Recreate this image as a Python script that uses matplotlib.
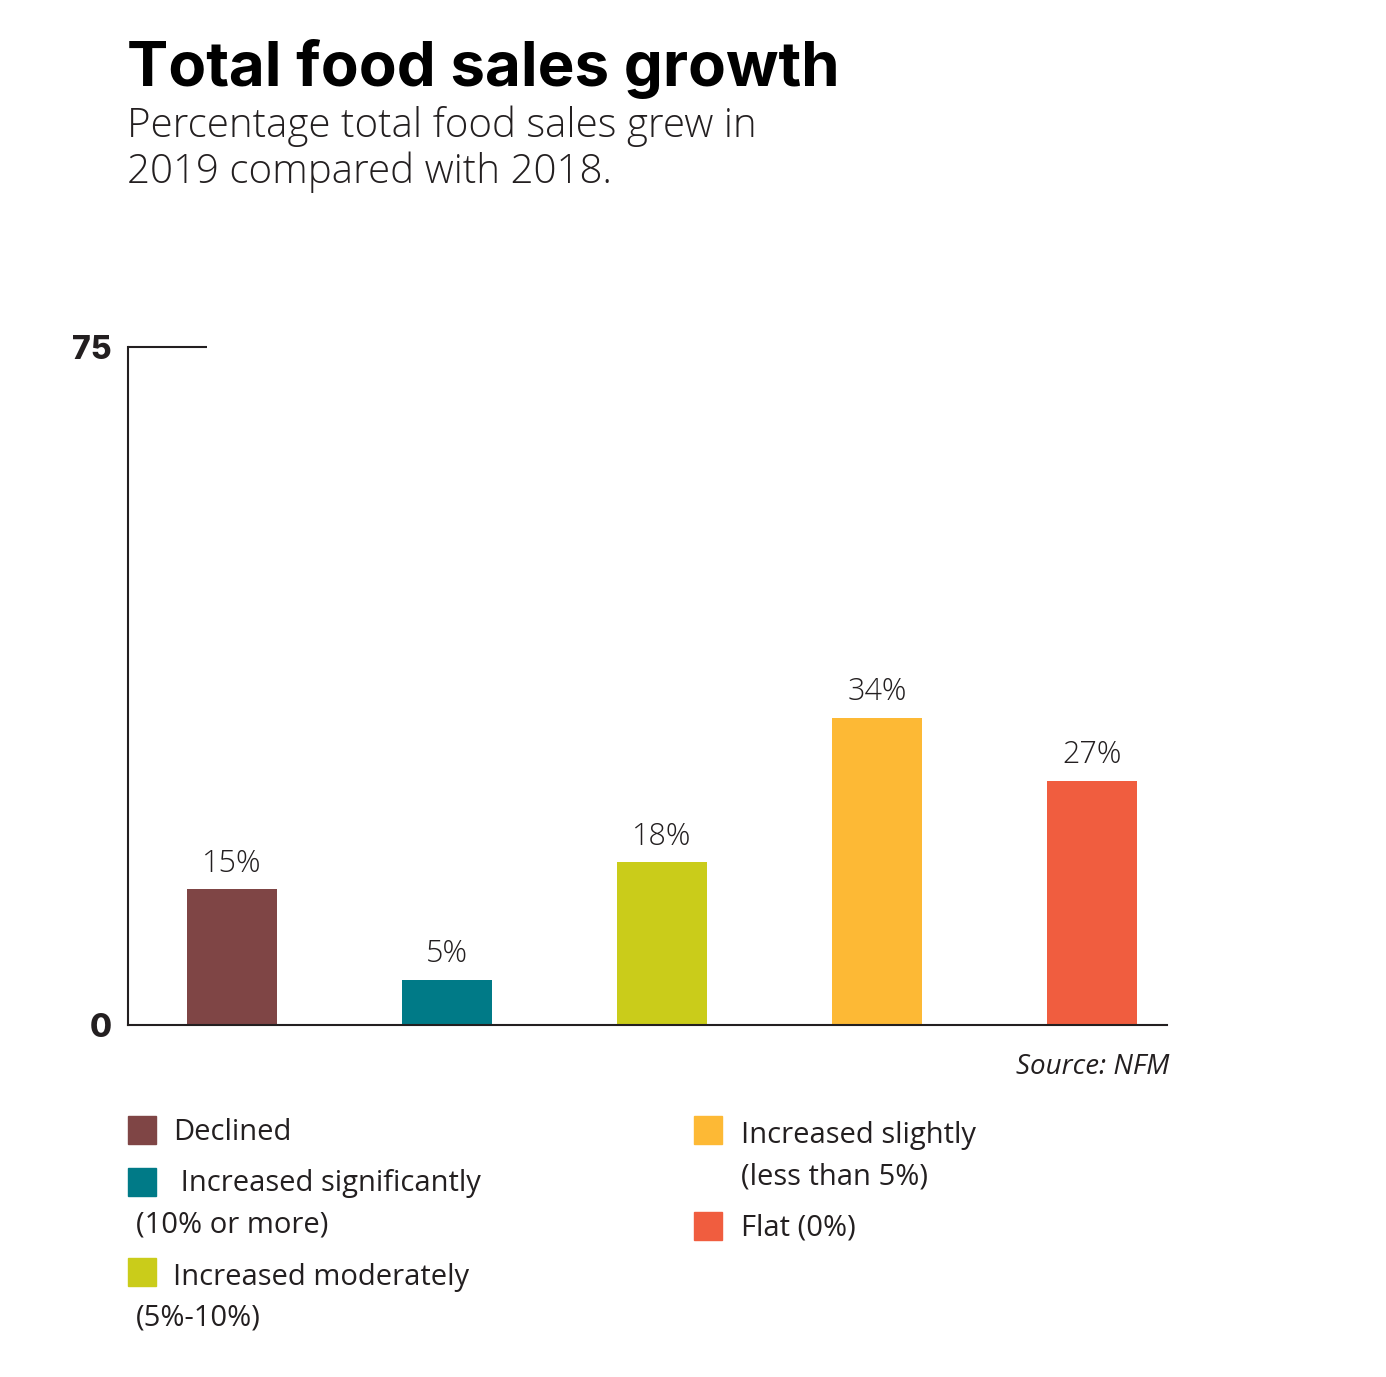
import matplotlib
matplotlib.use("Agg")
import matplotlib.pyplot as plt
from matplotlib.patches import Rectangle

# ---- data ----
categories = ["Declined", "Increased significantly", "Increased moderately",
              "Increased slightly", "Flat"]
values = [15, 5, 18, 34, 27]
value_labels = ["15%", "5%", "18%", "34%", "27%"]
colors = ["#7f4545", "#007a87", "#cacc1a", "#fdb935", "#f05d3f"]
legend_line1 = ["Declined", " Increased significantly", "Increased moderately",
                "Increased slightly", "Flat (0%)"]
legend_line2 = ["", "(10% or more)", "(5%-10%)", "(less than 5%)", ""]
yticks = [0, 75]

W, H = 1386, 1377
fig = plt.figure(figsize=(W / 100, H / 100), dpi=100)
fig.patch.set_facecolor("white")


def px(x, y):
    return (x / W, 1 - y / H)


dark = "#231f20"
ax = fig.add_axes([128 / W, 1 - 1025 / H, (1167 - 128) / W, (1025 - 347) / H])
x = list(range(len(values)))
ax.bar(x, values, width=90 / 215, color=colors, zorder=1)
ax.set_xlim(-(232 - 128) / 215, 4 + (1167 - 1092) / 215)
ax.set_ylim(0, 75)
for s in ["top", "right"]:
    ax.spines[s].set_visible(False)
for s in ["left", "bottom"]:
    ax.spines[s].set_color(dark)
    ax.spines[s].set_linewidth(1.5)
    ax.spines[s].set_zorder(3)
ax.set_xticks([])
ax.set_yticks(yticks)
ax.set_yticklabels([str(t) for t in yticks], fontsize=23, fontweight="heavy",
                   family="Inter", color=dark)
ax.tick_params(axis="y", length=0, pad=12)
# top reference line at 75
ax.plot([0, (207 - 128) / (1167 - 128)], [1, 1], transform=ax.transAxes,
        color=dark, lw=1.5, clip_on=False, solid_capstyle="butt")

for xi, v, lab in zip(x, values, value_labels):
    ax.annotate(lab, (xi, v), xytext=(0, 7), textcoords="offset points",
                ha="center", va="bottom", fontsize=22, family="Open Sans",
                fontweight="light", color=dark)

# title and subtitle
fig.text(*px(127, 86), "Total food sales growth", fontsize=44.5, fontweight="bold",
         family="Inter", color="black", ha="left", va="baseline")
fig.text(*px(127, 137), "Percentage total food sales grew in", fontsize=29,
         family="Open Sans", fontweight="light", color=dark, ha="left",
         va="baseline")
fig.text(*px(127, 183), "2019 compared with 2018.", fontsize=29,
         family="Open Sans", fontweight="light", color=dark, ha="left",
         va="baseline")

# source
fig.text(*px(1169, 1074), "Source: NFM", fontsize=20, style="italic",
         family="Open Sans", color=dark, ha="right", va="baseline")

# legend
sq = [(128, 1116), (128, 1168), (128, 1258), (694, 1116), (694, 1212)]
t1 = [(173, 1132), (173, 1183), (173, 1277), (741, 1135), (741, 1228)]
t2 = [None, (136, 1225), (136, 1318), (741, 1177), None]
for i, c in enumerate(colors):
    sx, sy = sq[i]
    fig.patches.append(Rectangle(px(sx, sy + 28), 28 / W, 28 / H, color=c,
                                 transform=fig.transFigure, figure=fig))
    fig.text(*px(*t1[i]), legend_line1[i], fontsize=21, family="Open Sans",
             color=dark, ha="left", va="center")
    if legend_line2[i]:
        fig.text(*px(*t2[i]), legend_line2[i], fontsize=21, family="Open Sans",
                 color=dark, ha="left", va="center")

fig.savefig("out.png", dpi=100, facecolor="white")
